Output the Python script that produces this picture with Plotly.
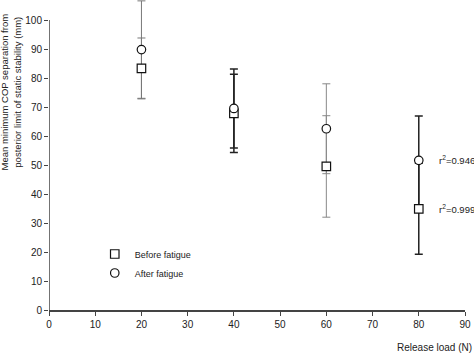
import plotly.graph_objects as go

loads = [20, 40, 60, 80]
before_mean = [83.3, 67.8, 49.5, 34.9]
before_sd = [10.5, 13.5, 17.5, 15.7]
after_mean = [89.8, 69.5, 62.5, 51.6]
after_sd = [16.8, 13.6, 15.5, 15.3]
bar_colors = ["#777777", "#222222", "#888888", "#222222"]
bar_widths = [1, 1.5, 1, 1.5]
r2_labels = ["r<sup>2</sup>=0.946", "r<sup>2</sup>=0.999"]

FONT = "Liberation Sans, Arial, sans-serif"
fig = go.Figure()

# error bars, one trace per point so the colour can vary
for i, x in enumerate(loads):
    for mean, sd in ((before_mean, before_sd), (after_mean, after_sd)):
        fig.add_trace(go.Scatter(
            x=[x], y=[mean[i]], mode="markers",
            marker=dict(size=1, color="rgba(0,0,0,0)"),
            error_y=dict(type="data", array=[sd[i]], visible=True,
                         color=bar_colors[i], thickness=bar_widths[i], width=4),
            showlegend=False, hoverinfo="skip"))

fig.add_trace(go.Scatter(
    x=loads, y=before_mean, mode="markers", name="Before fatigue",
    marker=dict(symbol="square", size=8.5, color="white",
                line=dict(color="#111111", width=1.2))))
fig.add_trace(go.Scatter(
    x=loads, y=after_mean, mode="markers", name="After fatigue",
    marker=dict(symbol="circle", size=8.5, color="white",
                line=dict(color="#111111", width=1.2))))

# y axis line only up to 100
fig.add_shape(type="line", xref="x", yref="y", x0=0, x1=0, y0=0, y1=100,
              line=dict(color="#444444", width=1.5), layer="above")

fig.add_annotation(x=loads[-1], y=after_mean[-1], text=r2_labels[0],
                   xref="x", yref="y", xanchor="left", yanchor="middle",
                   xshift=18, showarrow=False,
                   font=dict(family=FONT, size=9.5, color="#222222"))
fig.add_annotation(x=loads[-1], y=before_mean[-1], text=r2_labels[1],
                   xref="x", yref="y", xanchor="left", yanchor="middle",
                   xshift=18, showarrow=False,
                   font=dict(family=FONT, size=9.5, color="#222222"))

fig.add_annotation(text="Mean minimum COP separation from<br>posterior limit of static stability (mm)",
                   xref="paper", yref="y", x=0, y=75, xanchor="center", yanchor="middle",
                   xshift=-38, textangle=-90, showarrow=False,
                   font=dict(family=FONT, size=9.5, color="#222222"))
fig.add_annotation(text="Release load (N)", xref="x", yref="paper", x=83.4, y=0,
                   xanchor="center", yanchor="middle", yshift=-37, showarrow=False,
                   font=dict(family=FONT, size=10, color="#222222"))

fig.update_layout(
    width=474, height=354,
    margin=dict(l=49, r=9, t=0, b=44),
    paper_bgcolor="white", plot_bgcolor="white",
    font=dict(family=FONT, size=10, color="#222222"),
    showlegend=True,
    legend=dict(x=0.11, y=0.15, xanchor="left", yanchor="middle",
                bgcolor="rgba(0,0,0,0)", font=dict(size=9),
                itemwidth=30),
    xaxis=dict(range=[0, 90], tickvals=list(range(0, 91, 10)),
               showgrid=False, zeroline=False, showline=True,
               linecolor="#444444", linewidth=1.5,
               ticks="outside", ticklen=4, tickcolor="#444444",
               tickfont=dict(size=10)),
    yaxis=dict(range=[0, 106.9], tickvals=list(range(0, 101, 10)),
               showgrid=False, zeroline=False, showline=False,
               ticks="outside", ticklen=4, tickcolor="#444444",
               tickfont=dict(size=10)),
)

fig.write_html("out.html")
